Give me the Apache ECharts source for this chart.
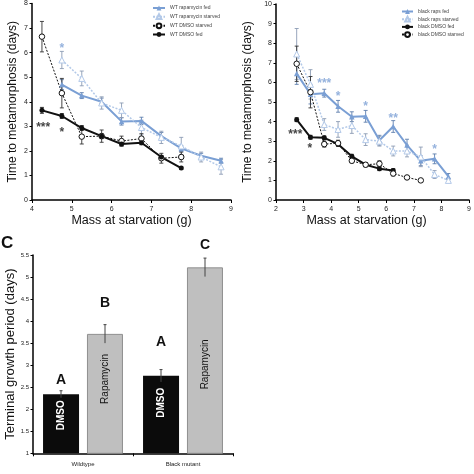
<!DOCTYPE html>
<html><head><meta charset="utf-8">
<script src="https://cdn.jsdelivr.net/npm/echarts@6/dist/echarts.min.js"></script>
<style>html,body{margin:0;padding:0;background:#fff}#c{width:474px;height:474px}</style>
</head><body><div id="c"></div>
<script>
// ---------- Panel A (WT) ----------
const aRapaX = [4.75, 5.25, 5.75, 6.25, 6.75, 7.25, 7.75, 8.25, 8.75];
const aRapaFedY = [4.7, 4.25, 4.0, 3.2, 3.22, 2.6, 2.1, 1.8, 1.6];
const aRapaFedErr = [0.2, 0.12, 0.15, 0.15, 0.15, 0.15, 0.12, 0.1, 0.1];
const aRapaStY = [5.7, 4.95, 3.95, 3.65, 2.95, 2.55, 2.2, 1.75, 1.35];
const aRapaStErr = [0.35, 0.3, 0.25, 0.3, 0.3, 0.25, 0.35, 0.2, 0.3];
const aDmsoX = [4.25, 4.75, 5.25, 5.75, 6.25, 6.75, 7.25, 7.75];
const aDmsoStY = [6.65, 4.35, 2.58, 2.6, 2.4, 2.5, 1.7, 1.75];
const aDmsoStErr = [0.62, 0.6, 0.3, 0.25, 0.2, 0.2, 0.2, 0.2];
const aDmsoFedY = [3.65, 3.42, 2.93, 2.6, 2.28, 2.33, 1.75, 1.3];
const aDmsoFedErr = [0.12, 0.1, 0.1, 0.1, 0.08, 0.08, 0.06, 0.05];
const aBlackStarX = [4.28, 4.75], aBlackStarY = [3.08, 2.88], aBlackStarT = ['***', '*'];
const aBlueStarX = [4.75], aBlueStarY = [6.3], aBlueStarT = ['*'];
const aNames = ['WT rapamycin fed', 'WT rapamycin starved', 'WT DMSO starved', 'WT DMSO fed'];

// ---------- Panel B (black mutant) ----------
const bRapaX = [2.75, 3.25, 3.75, 4.25, 4.75, 5.25, 5.75, 6.25, 6.75, 7.25, 7.75, 8.25];
const bRapaFedY = [6.45, 5.4, 5.45, 4.78, 4.25, 4.27, 3.05, 3.75, 2.8, 2.0, 2.1, 1.2];
const bRapaFedErr = [0.55, 0.5, 0.2, 0.3, 0.25, 0.3, 0.25, 0.3, 0.3, 0.25, 0.25, 0.15];
const bRapaStY = [7.45, 5.9, 3.85, 3.6, 3.8, 3.08, 3.0, 2.5, 2.5, 2.2, 1.3, 1.0];
const bRapaStErr = [1.3, 0.75, 0.3, 0.4, 0.4, 0.3, 0.25, 0.25, 0.3, 0.5, 0.2, 0.1];
const bDmsoFedX = [2.75, 3.25, 3.75, 4.25, 4.75, 5.25, 5.75, 6.25];
const bDmsoFedY = [4.1, 3.2, 3.17, 2.85, 2.23, 1.8, 1.6, 1.5];
const bDmsoFedErr = [0.1, 0.1, 0.1, 0.1, 0.1, 0.1, 0.1, 0.1];
const bDmsoStX = [2.75, 3.25, 3.75, 4.25, 4.75, 5.25, 5.75, 6.25, 6.75, 7.25];
const bDmsoStY = [6.95, 5.5, 2.85, 2.9, 2.0, 1.8, 1.85, 1.35, 1.15, 1.0];
const bDmsoStErr = [0.9, 0.8, 0.15, 0.15, 0.1, 0.1, 0.15, 0.12, 0.05, 0.02];
const bBlackStarX = [2.7, 3.23], bBlackStarY = [3.48, 2.75], bBlackStarT = ['***', '*'];
const bBlueStarX = [3.75, 4.25, 5.25, 6.25, 7.75], bBlueStarY = [6.09, 5.41, 4.93, 4.3, 2.72], bBlueStarT = ['***', '*', '*', '**', '*'];
const bNames = ['black raps fed', 'black raps starved', 'black DMSO fed', 'black DMSO starved'];

// ---------- Panel C ----------
const cCategories = ['Wildtype', 'Black mutant'];
const cDmso = [2.34, 2.76], cDmsoErr = [0.08, 0.14];
const cRapa = [3.71, 5.22], cRapaErr = [0.21, 0.21];
const cDmsoLetters = ['A', 'A'], cDmsoLetterY = [2.66, 3.53];
const cRapaLetters = ['B', 'C'], cRapaLetterY = [4.4, 5.73];

// ---------- styles ----------
const FONT = 'Liberation Sans, Arial, Helvetica, sans-serif';
const BLUE = '#7a9fd4', LBLUE = '#b3c9e8', BLACK = '#111';
const labelDy = { dmso: [21, 27], rapa: [45, 97] };

function pts(X, Y) { return X.map((x, i) => [x, Y[i]]); }
function errData(X, Y, E) { return X.map((x, i) => [x, Y[i] - E[i], Y[i] + E[i]]); }

function errSeries(name, gi, X, Y, E, color) {
  return {
    name: name, type: 'custom', xAxisIndex: gi, yAxisIndex: gi, silent: true, z: 1,
    data: errData(X, Y, E), encode: { x: 0, y: [1, 2] },
    renderItem: function (params, api) {
      const x = api.value(0);
      const p1 = api.coord([x, api.value(2)]), p0 = api.coord([x, api.value(1)]);
      const st = { stroke: color, lineWidth: 0.9 };
      const c = 2;
      return { type: 'group', children: [
        { type: 'line', shape: { x1: p1[0], y1: p1[1], x2: p0[0], y2: p0[1] }, style: st },
        { type: 'line', shape: { x1: p1[0] - c, y1: p1[1], x2: p1[0] + c, y2: p1[1] }, style: st },
        { type: 'line', shape: { x1: p0[0] - c, y1: p0[1], x2: p0[0] + c, y2: p0[1] }, style: st }
      ] };
    }
  };
}

function lineSeries(name, gi, X, Y, o) {
  return {
    name: name, type: 'line', xAxisIndex: gi, yAxisIndex: gi, z: 3,
    data: pts(X, Y), symbol: o.symbol, symbolSize: o.size,
    lineStyle: { color: o.line, width: o.width, type: o.type },
    itemStyle: { color: o.fill, borderColor: o.line, borderWidth: o.bw },
    emphasis: { disabled: true }
  };
}

function starSeries(name, gi, X, Y, T, color, size) {
  return {
    name: name, type: 'scatter', xAxisIndex: gi, yAxisIndex: gi, silent: true, z: 5,
    data: X.map((x, i) => [x, Y[i], i]), symbolSize: 0,
    label: { show: true, position: 'inside', formatter: p => T[p.value[2]], color: color,
      fontSize: size, fontWeight: 'bold', fontFamily: FONT, offset: [0, 3] }
  };
}

function xValAxis(gi, min, max, name, pad) {
  return {
    type: 'value', gridIndex: gi, min: min, max: max, interval: 1,
    name: name, nameLocation: 'middle', nameGap: 14,
    nameTextStyle: { fontSize: 12.5, color: '#111', fontFamily: FONT, padding: pad },
    axisLine: { show: true, lineStyle: { color: '#000', width: 1.5 } },
    axisTick: { show: true, length: 3, lineStyle: { color: '#000' } },
    axisLabel: { fontSize: 7, margin: 6, color: '#222', fontFamily: FONT },
    splitLine: { show: false }
  };
}
function yValAxis(gi, min, max, interval, name, gap, nameSize, labelSize) {
  return {
    type: 'value', gridIndex: gi, min: min, max: max, interval: interval,
    name: name, nameLocation: 'middle', nameGap: gap, nameRotate: 90,
    nameTextStyle: { fontSize: nameSize, color: '#111', fontFamily: FONT },
    axisLine: { show: true, lineStyle: { color: '#000', width: 1.5 } },
    axisTick: { show: true, length: 2.5, lineStyle: { color: '#000' } },
    axisLabel: { fontSize: labelSize, margin: 4, color: '#222', fontFamily: FONT },
    splitLine: { show: false }
  };
}

const sty = {
  rapaFed: { symbol: 'triangle', size: 5.5, line: BLUE, fill: BLUE, width: 2, type: 'solid', bw: 0 },
  rapaSt: { symbol: 'triangle', size: 6, line: LBLUE, fill: '#fff', width: 1.5, type: [2, 1.5], bw: 1 },
  dmsoSt: { symbol: 'circle', size: 5.5, line: BLACK, fill: '#fff', width: 1, type: [2, 1.5], bw: 1 },
  dmsoFed: { symbol: 'circle', size: 5, line: BLACK, fill: BLACK, width: 2, type: 'solid', bw: 0 }
};

function barErrSeries(name, vals, errs, letters, letterY, side) {
  return {
    name: name, type: 'custom', xAxisIndex: 2, yAxisIndex: 2, silent: true, z: 4,
    data: vals.map((v, i) => [i, v - errs[i], v + errs[i]]), encode: { x: 0, y: [1, 2] },
    renderItem: function (params, api) {
      const i = api.value(0);
      const band = api.size([1, 0])[0];
      const dx = side * 0.22 * band;
      const p1 = api.coord([i, api.value(2)]), p0 = api.coord([i, api.value(1)]);
      const pl = api.coord([i, letterY[params.dataIndex]]);
      const x = p1[0] + dx;
      const st = { stroke: '#444', lineWidth: 1 };
      return { type: 'group', children: [
        { type: 'line', shape: { x1: x, y1: p1[1], x2: x, y2: p0[1] }, style: st },
        { type: 'line', shape: { x1: x - 1.5, y1: p1[1], x2: x + 1.5, y2: p1[1] }, style: st },
        { type: 'text', style: { text: letters[params.dataIndex], x: pl[0] + dx, y: pl[1],
          align: 'center', verticalAlign: 'middle', fontSize: 14, fontWeight: 'bold',
          fontFamily: FONT, fill: '#111' } }
      ] };
    }
  };
}

const option = {
  animation: false,
  backgroundColor: '#fff',
  grid: [
    { left: 32, top: 0, width: 199, height: 200 },
    { left: 276, top: 4, width: 196, height: 196 },
    { left: 33, top: 255, width: 200, height: 198.3 }
  ],
  legend: [
    { data: aNames, orient: 'vertical', left: 152, top: 5, padding: 0, itemWidth: 12, itemHeight: 6, itemGap: 2.3,
      selectedMode: false, textStyle: { fontSize: 5, lineHeight: 6, color: '#444', fontFamily: FONT } },
    { data: bNames, orient: 'vertical', left: 401, top: 8.5, padding: 0, itemWidth: 11, itemHeight: 6, itemGap: 1.3,
      selectedMode: false, textStyle: { fontSize: 5, lineHeight: 6, color: '#444', fontFamily: FONT } }
  ],
  xAxis: [
    xValAxis(0, 4, 9, 'Mass at starvation (g)', 0),
    xValAxis(1, 2, 9, 'Mass at starvation (g)', [0, 12, 0, 0]),
    {
      type: 'category', gridIndex: 2, data: cCategories,
      axisLine: { show: true, lineStyle: { color: '#000', width: 1.5 } },
      axisTick: { show: true, length: 3, lineStyle: { color: '#000' } },
      axisLabel: { fontSize: 6, margin: 8, color: '#222', fontFamily: FONT }
    }
  ],
  yAxis: [
    yValAxis(0, 0, 8, 1, 'Time to metamorphosis (days)', 13, 12, 7),
    yValAxis(1, 0, 10, 1, 'Time to metamorphosis (days)', 22, 12, 7),
    yValAxis(2, 1, 5.5, 0.5, 'Terminal growth period (days)', 14, 13, 6)
  ],
  graphic: [
    { type: 'text', left: 0, top: -14, style: { text: 'A', fontSize: 16, fontWeight: 'bold', fontFamily: FONT, fill: '#111' } },
    { type: 'text', left: 231, top: -12, style: { text: 'B', fontSize: 16, fontWeight: 'bold', fontFamily: FONT, fill: '#111' } },
    { type: 'text', left: 1, top: 235, style: { text: 'C', fontSize: 17, fontWeight: 'bold', fontFamily: FONT, fill: '#111' } }
  ],
  series: [
    // Panel A
    errSeries('eA1', 0, aRapaX, aRapaFedY, aRapaFedErr, '#5f7fae'),
    errSeries('eA2', 0, aRapaX, aRapaStY, aRapaStErr, '#8c9cb4'),
    errSeries('eA3', 0, aDmsoX, aDmsoStY, aDmsoStErr, '#333'),
    errSeries('eA4', 0, aDmsoX, aDmsoFedY, aDmsoFedErr, '#222'),
    lineSeries(aNames[0], 0, aRapaX, aRapaFedY, sty.rapaFed),
    lineSeries(aNames[1], 0, aRapaX, aRapaStY, sty.rapaSt),
    lineSeries(aNames[2], 0, aDmsoX, aDmsoStY, sty.dmsoSt),
    lineSeries(aNames[3], 0, aDmsoX, aDmsoFedY, sty.dmsoFed),
    starSeries('sA1', 0, aBlackStarX, aBlackStarY, aBlackStarT, '#111', 12),
    starSeries('sA2', 0, aBlueStarX, aBlueStarY, aBlueStarT, BLUE, 12),
    // Panel B
    errSeries('eB1', 1, bRapaX, bRapaFedY, bRapaFedErr, '#5f7fae'),
    errSeries('eB2', 1, bRapaX, bRapaStY, bRapaStErr, '#8c9cb4'),
    errSeries('eB3', 1, bDmsoFedX, bDmsoFedY, bDmsoFedErr, '#222'),
    errSeries('eB4', 1, bDmsoStX, bDmsoStY, bDmsoStErr, '#333'),
    lineSeries(bNames[0], 1, bRapaX, bRapaFedY, sty.rapaFed),
    lineSeries(bNames[1], 1, bRapaX, bRapaStY, sty.rapaSt),
    lineSeries(bNames[2], 1, bDmsoFedX, bDmsoFedY, sty.dmsoFed),
    lineSeries(bNames[3], 1, bDmsoStX, bDmsoStY, sty.dmsoSt),
    starSeries('sB1', 1, bBlackStarX, bBlackStarY, bBlackStarT, '#111', 12),
    starSeries('sB2', 1, bBlueStarX, bBlueStarY, bBlueStarT, BLUE, 12),
    // Panel C
    {
      name: 'DMSO', type: 'bar', xAxisIndex: 2, yAxisIndex: 2, barWidth: '36%', barGap: '22%', z: 2,
      data: cDmso.map((v, i) => ({ value: v, label: { position: ['50%', labelDy.dmso[i]] } })),
      itemStyle: { color: '#0b0b0b' },
      label: { show: true, formatter: 'DMSO', rotate: 90, align: 'center', verticalAlign: 'middle',
        color: '#fff', fontSize: 10, fontWeight: 'bold', fontFamily: FONT },
      emphasis: { disabled: true }
    },
    {
      name: 'Rapamycin', type: 'bar', xAxisIndex: 2, yAxisIndex: 2, barWidth: '36%', barGap: '22%', z: 2,
      data: cRapa.map((v, i) => ({ value: v, label: { position: ['50%', labelDy.rapa[i]] } })),
      itemStyle: { color: '#bfbfbf', borderColor: '#8f8f8f', borderWidth: 1 },
      label: { show: true, formatter: 'Rapamycin', rotate: 90, align: 'center', verticalAlign: 'middle',
        color: '#111', fontSize: 10, fontFamily: FONT },
      emphasis: { disabled: true }
    },
    barErrSeries('eC1', cDmso, cDmsoErr, cDmsoLetters, cDmsoLetterY, -1),
    barErrSeries('eC2', cRapa, cRapaErr, cRapaLetters, cRapaLetterY, 1)
  ]
};

const chart = echarts.init(document.getElementById('c'), null, { renderer: 'canvas' });
chart.setOption(option);
</script>
</body></html>
